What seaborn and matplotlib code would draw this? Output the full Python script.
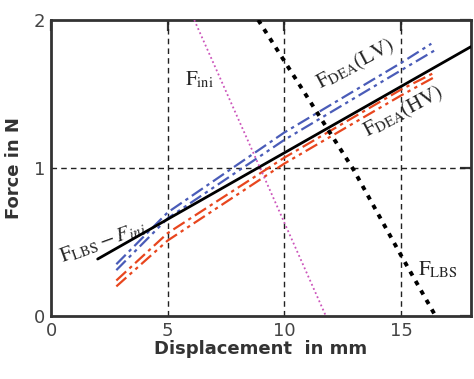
import pandas as pd
import matplotlib.pyplot as plt
import seaborn as sns

# --- Data ---
x_lbs_ini = [2.0, 18.0]
y_lbs_ini = [0.385, 1.82]

x_lbs = [8.88, 12.96, 15.0, 16.48]
y_lbs = [2.0, 0.99, 0.41, 0.0]

x_ini = [6.14, 11.78]
y_ini = [2.0, 0.0]

x_lv1 = [2.8, 5.0, 10.0, 15.0, 16.3]
y_lv1 = [0.35, 0.70, 1.24, 1.71, 1.84]
x_lv2 = [2.8, 5.0, 10.0, 15.0, 16.5]
y_lv2 = [0.31, 0.66, 1.19, 1.66, 1.80]

x_hv1 = [2.8, 5.0, 10.0, 15.0, 16.5]
y_hv1 = [0.24, 0.56, 1.07, 1.53, 1.65]
x_hv2 = [2.8, 5.0, 10.0, 15.0, 16.5]
y_hv2 = [0.20, 0.51, 1.03, 1.49, 1.62]

x_ticks = [0, 5, 10, 15]
y_ticks = [0, 1, 2]

sns.set_style("white")
plt.rcParams['mathtext.fontset'] = 'stix'
plt.rcParams['font.family'] = ['DejaVu Sans']

fig = plt.figure(figsize=(4.74, 3.79), dpi=100)
ax = fig.add_axes([0.1076, 0.1662, 0.8861, 0.7810])

# grid lines at the interior ticks
for xv in x_ticks[1:]:
    ax.axvline(xv, color='#222222', lw=1.0, ls=(0, (4, 3)), zorder=1)
ax.axhline(y_ticks[1], color='#222222', lw=1.0, ls=(0, (4, 3)), zorder=1)

blue = '#4a5cb8'
red = '#e8461e'

sns.lineplot(x=x_lv1, y=y_lv1, ax=ax, color=blue, lw=1.6, linestyle=(0, (6, 2, 1.5, 2)), zorder=3)
sns.lineplot(x=x_lv2, y=y_lv2, ax=ax, color=blue, lw=1.6, linestyle=(0, (6, 2, 1.5, 2, 1.5, 2)), zorder=3)
sns.lineplot(x=x_hv1, y=y_hv1, ax=ax, color=red, lw=1.6, linestyle=(0, (6, 2, 1.5, 2)), zorder=3)
sns.lineplot(x=x_hv2, y=y_hv2, ax=ax, color=red, lw=1.6, linestyle=(0, (6, 2, 1.5, 2, 1.5, 2)), zorder=3)
sns.lineplot(x=x_lbs_ini, y=y_lbs_ini, ax=ax, color='black', lw=2.0, zorder=4)
sns.lineplot(x=x_ini, y=y_ini, ax=ax, color='#cc55bb', lw=1.3, linestyle=(0, (1, 1.5)), zorder=4)
sns.lineplot(x=x_lbs, y=y_lbs, ax=ax, color='black', lw=2.8, linestyle=(0, (1.2, 1.6)), zorder=4)

# curve labels
ax.text(5.75, 1.6, r'$\mathrm{F}_{\mathrm{ini}}$', fontsize=15, ha='left', va='center')
ax.text(13.05, 1.70, r'$\mathrm{F}_{\mathrm{DEA}}(\mathrm{LV})$', fontsize=15,
        ha='center', va='center', rotation=28)
ax.text(15.1, 1.38, r'$\mathrm{F}_{\mathrm{DEA}}(\mathrm{HV})$', fontsize=15,
        ha='center', va='center', rotation=28)
ax.text(2.2, 0.50, r'$\mathrm{F}_{\mathrm{LBS}} - F_{ini}$', fontsize=15,
        ha='center', va='center', rotation=20)
ax.text(16.6, 0.31, r'$\mathrm{F}_{\mathrm{LBS}}$', fontsize=15, ha='center', va='center')

ax.set_xlim(0, 18)
ax.set_ylim(0, 2)
ax.set_xticks(x_ticks)
ax.set_yticks(y_ticks)
ax.tick_params(direction='in', length=8, width=1.6, colors='#333333',
               labelsize=13, top=True, right=True, pad=4)
for lab in ax.get_xticklabels() + ax.get_yticklabels():
    lab.set_color('#444444')
for s in ax.spines.values():
    s.set_linewidth(2.0)
    s.set_color('#333333')

ax.set_xlabel('Displacement  in mm', fontsize=13, fontweight='bold', color='#333333', labelpad=0)
ax.set_ylabel('Force in N', fontsize=13, fontweight='bold', color='#333333', labelpad=8)

plt.savefig('out.png', dpi=100)
